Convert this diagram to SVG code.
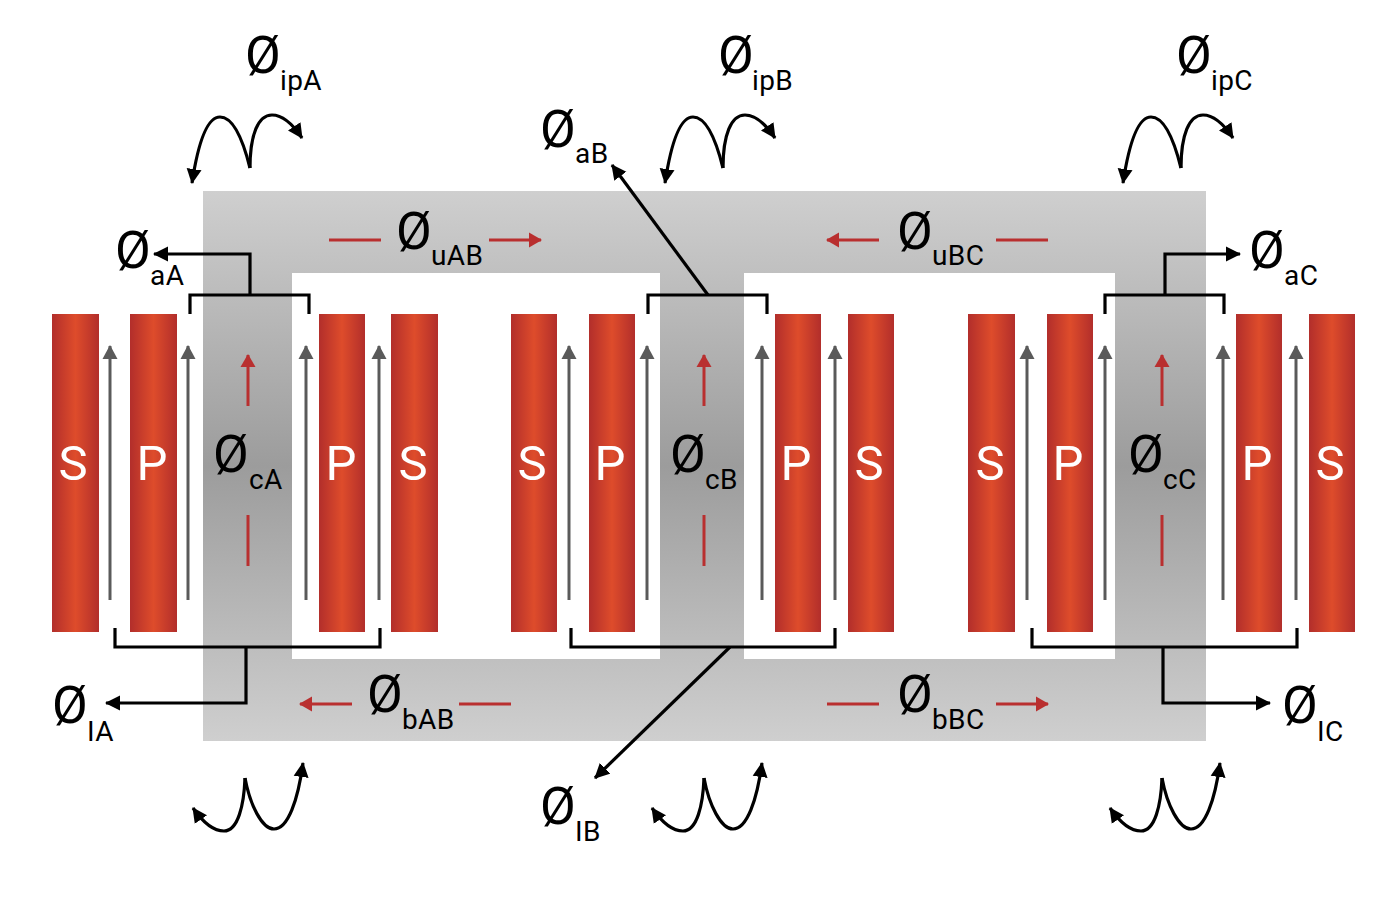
<svg xmlns="http://www.w3.org/2000/svg" width="1395" height="910" viewBox="0 0 1395 910">
<style>
text{font-family:Roboto,"Noto Sans","DejaVu Sans",sans-serif;fill:#000}
.phi{font-size:52px;font-weight:400}
.sub{font-size:28px;font-weight:400;letter-spacing:.4px}
.coil{fill:url(#coil)}
.cl{font-family:Roboto,"Liberation Sans",sans-serif;font-size:49px;font-weight:400;fill:#fff;text-anchor:middle}
.k{fill:none;stroke:#000;stroke-width:3.2}
.g{fill:none;stroke:#5a5a5a;stroke-width:3;marker-end:url(#ga)}
.r{fill:none;stroke:#b92f2f;stroke-width:3}
.ra{marker-end:url(#ra)}
.ka{marker-end:url(#ka)}
</style>
<defs>
<linearGradient id="coil" x1="0" x2="1" y1="0" y2="0"><stop offset="0" stop-color="#b22e2b"/><stop offset=".5" stop-color="#de4c2b"/><stop offset="1" stop-color="#b22e2b"/></linearGradient>
<linearGradient id="core" gradientUnits="userSpaceOnUse" x1="0" x2="0" y1="191" y2="741"><stop offset="0" stop-color="#cfcfcf"/><stop offset=".5" stop-color="#9c9c9c"/><stop offset="1" stop-color="#cfcfcf"/></linearGradient>
<marker id="ga" markerUnits="userSpaceOnUse" viewBox="0 0 15 16" markerWidth="15" markerHeight="16" refX="13" refY="8" orient="auto"><path d="M0 0.5L14 8L0 15.5Z" fill="#5a5a5a"/></marker>
<marker id="ra" markerUnits="userSpaceOnUse" viewBox="0 0 14 16" markerWidth="14" markerHeight="16" refX="12" refY="8" orient="auto"><path d="M0 0.5L13 8L0 15.5Z" fill="#b92f2f"/></marker>
<marker id="ka" markerUnits="userSpaceOnUse" viewBox="0 0 16 16" markerWidth="16" markerHeight="16" refX="14" refY="8" orient="auto"><path d="M0 0.5L15 8L0 15.5Z" fill="#000"/></marker>
</defs>
<g id="core"><path fill="url(#core)" fill-rule="evenodd" d="M203 191H1206V741H203ZM292 273V659H660V273ZM744 273V659H1115V273Z"/></g>
<g id="coils">
<rect class="coil" x="52" y="314" width="47" height="318"/><rect class="coil" x="130" y="314" width="47" height="318"/><rect class="coil" x="319" y="314" width="46" height="318"/><rect class="coil" x="391" y="314" width="47" height="318"/>
<rect class="coil" x="511" y="314" width="46" height="318"/><rect class="coil" x="589" y="314" width="46" height="318"/><rect class="coil" x="775" y="314" width="46" height="318"/><rect class="coil" x="848" y="314" width="46" height="318"/>
<rect class="coil" x="968" y="314" width="47" height="318"/><rect class="coil" x="1047" y="314" width="46" height="318"/><rect class="coil" x="1236" y="314" width="46" height="318"/><rect class="coil" x="1309" y="314" width="46" height="318"/>
<text class="cl" x="73" y="480">S</text><text class="cl" x="152" y="480">P</text><text class="cl" x="341" y="480">P</text><text class="cl" x="413" y="480">S</text>
<text class="cl" x="532" y="480">S</text><text class="cl" x="610" y="480">P</text><text class="cl" x="796" y="480">P</text><text class="cl" x="869" y="480">S</text>
<text class="cl" x="990" y="480">S</text><text class="cl" x="1068" y="480">P</text><text class="cl" x="1257" y="480">P</text><text class="cl" x="1330" y="480">S</text>
</g>
<g id="connectors">
<path class="g" d="M110 600V346"/><path class="g" d="M188 600V346"/><path class="g" d="M306 600V346"/><path class="g" d="M379 600V346"/>
<path class="g" d="M569 600V346"/><path class="g" d="M647 600V346"/><path class="g" d="M762 600V346"/><path class="g" d="M835 600V346"/>
<path class="g" d="M1027 600V346"/><path class="g" d="M1105 600V346"/><path class="g" d="M1223 600V346"/><path class="g" d="M1296 600V346"/>
<path class="r ra" d="M248 406V355"/><path class="r" d="M248 515V566"/>
<path class="r ra" d="M704 406V355"/><path class="r" d="M704 515V566"/>
<path class="r ra" d="M1162 406V355"/><path class="r" d="M1162 515V566"/>
<path class="r" d="M329 240H381"/><path class="r ra" d="M489 240H541"/>
<path class="r ra" d="M879 240H827"/><path class="r" d="M996 240H1048"/>
<path class="r ra" d="M352 704H300"/><path class="r" d="M459 704H511"/>
<path class="r" d="M827 704H879"/><path class="r ra" d="M996 704H1048"/>
<path class="k" d="M190 314V295H309V314"/><path class="k ka" d="M250 295V254H154"/>
<path class="k" d="M648 314V295H767V314"/><path class="k ka" d="M708 295L612 165"/>
<path class="k" d="M1105 314V295H1224V314"/><path class="k ka" d="M1165 295V254H1240"/>
<path class="k" d="M115 628V647H380V628"/><path class="k ka" d="M246 647V703H106"/>
<path class="k" d="M571 628V647H835V628"/><path class="k ka" d="M730 647L595 778"/>
<path class="k" d="M1032 628V647H1297V628"/><path class="k ka" d="M1163 647V703H1270"/>
<g id="curls-top">
<path class="k ka" d="M250 168C243 140 233 117 220 117C205 117 197 150 192 183"/><path class="k ka" d="M250 168C250 135 258 115 272 115C284 115 294 126 302 138"/>
<path class="k ka" d="M723 168C716 140 706 117 693 117C678 117 670 150 665 183"/><path class="k ka" d="M723 168C723 135 731 115 745 115C757 115 767 126 775 138"/>
<path class="k ka" d="M1181 168C1174 140 1164 117 1151 117C1136 117 1128 150 1123 183"/><path class="k ka" d="M1181 168C1181 135 1189 115 1203 115C1215 115 1225 126 1233 138"/>
</g>
<g id="curls-bottom">
<path class="k ka" d="M245 778C244 805 238 831 224 831C212 831 202 821 193 808"/><path class="k ka" d="M245 778C250 805 262 829 274 829C288 829 298 800 303 763"/>
<path class="k ka" d="M704 778C703 805 697 831 683 831C671 831 661 821 652 808"/><path class="k ka" d="M704 778C709 805 721 829 733 829C747 829 757 800 762 763"/>
<path class="k ka" d="M1162 778C1161 805 1155 831 1141 831C1129 831 1119 821 1110 808"/><path class="k ka" d="M1162 778C1167 805 1179 829 1191 829C1205 829 1215 800 1220 763"/>
</g>
</g>
<g id="labels">
<text class="phi" x="245" y="73">Ø</text><text class="sub" x="280" y="90">ipA</text>
<text class="phi" x="718" y="73">Ø</text><text class="sub" x="752" y="90">ipB</text>
<text class="phi" x="1176" y="73">Ø</text><text class="sub" x="1211" y="90">ipC</text>
<text class="phi" x="540" y="147">Ø</text><text class="sub" x="575" y="163">aB</text>
<text class="phi" x="115" y="268">Ø</text><text class="sub" x="150" y="285">aA</text>
<text class="phi" x="1249" y="268">Ø</text><text class="sub" x="1284" y="285">aC</text>
<text class="phi" x="396" y="249">Ø</text><text class="sub" x="431" y="265">uAB</text>
<text class="phi" x="897" y="249">Ø</text><text class="sub" x="932" y="265">uBC</text>
<text class="phi" x="213" y="472">Ø</text><text class="sub" x="249" y="489">cA</text>
<text class="phi" x="670" y="472">Ø</text><text class="sub" x="705" y="489">cB</text>
<text class="phi" x="1128" y="472">Ø</text><text class="sub" x="1163" y="489">cC</text>
<text class="phi" x="367" y="712">Ø</text><text class="sub" x="402" y="729">bAB</text>
<text class="phi" x="897" y="712">Ø</text><text class="sub" x="932" y="729">bBC</text>
<text class="phi" x="52" y="723">Ø</text><text class="sub" x="87" y="741">IA</text>
<text class="phi" x="540" y="824">Ø</text><text class="sub" x="575" y="841">IB</text>
<text class="phi" x="1282" y="723">Ø</text><text class="sub" x="1317" y="741">IC</text>
</g>
</svg>
